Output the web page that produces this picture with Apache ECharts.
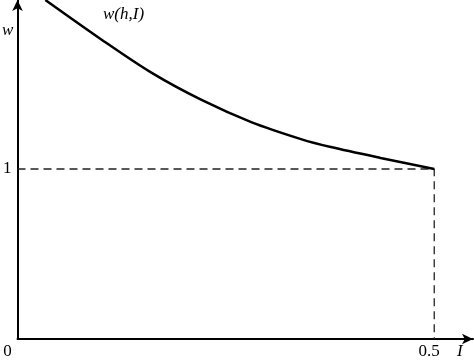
<!DOCTYPE html>
<html><head><meta charset="utf-8">
<script src="https://cdn.jsdelivr.net/npm/echarts@6/dist/echarts.min.js"></script>
<style>html,body{margin:0;padding:0;background:#fff}#c{width:474px;height:361px}</style>
</head><body><div id="c"></div>
<script>
var curveI = [0.0334, 0.1014, 0.1611, 0.2208, 0.2804, 0.3401, 0.3759, 0.4356, 0.5];
var curveW = [1.994, 1.759, 1.565, 1.406, 1.276, 1.176, 1.129, 1.065, 1.0];
var guideI = [0, 0.5, 0.5];
var guideW = [1, 1, 0];
var xTicks = [0, 0.5];
var yTicks = [1];
var xMax = 0.5465, yMax = 1.994;

var chart = echarts.init(document.getElementById('c'));
var font = 'Liberation Serif';
chart.setOption({
  animation: false,
  grid: {left: 15, right: 1, top: 0, bottom: 22},
  xAxis: {
    type: 'value', min: 0, max: xMax,
    axisLine: {lineStyle: {color: '#000', width: 2}, symbol: ['none', 'arrow'], symbolSize: [8, 11]},
    axisTick: {show: false}, splitLine: {show: false},
    axisLabel: {
      customValues: xTicks, color: '#000', fontFamily: font, fontSize: 17, margin: 4,
      formatter: function (v) { return v === 0 ? '{z|0}' : '{h|' + v + '}'; },
      rich: {z: {fontFamily: font, fontSize: 17, color: '#000', padding: [0, 20, 0, 0]},
             h: {fontFamily: font, fontSize: 17, color: '#000', padding: [0, 10, 0, 0]}}
    }
  },
  yAxis: {
    type: 'value', min: 0, max: yMax,
    axisLine: {lineStyle: {color: '#000', width: 2}, symbol: ['none', 'arrow'], symbolSize: [8, 11]},
    axisTick: {show: false}, splitLine: {show: false},
    axisLabel: {customValues: yTicks, color: '#000', fontFamily: font, fontSize: 17, margin: 6}
  },
  series: [
    {type: 'line', data: curveI.map(function (x, i) { return [x, curveW[i]]; }),
     smooth: 0.3, symbol: 'none', lineStyle: {color: '#000', width: 2.5}, z: 3},
    {type: 'line', data: guideI.map(function (x, i) { return [x, guideW[i]]; }),
     symbol: 'none', lineStyle: {color: '#222', width: 1.3, type: [8, 5]}, z: 2}
  ],
  graphic: [
    {type: 'text', left: 2, top: 22, style: {text: 'w', font: 'italic 17px "Liberation Serif"', fill: '#000'}},
    {type: 'text', left: 103, top: 6, style: {text: 'w(h,I)', font: 'italic 17px "Liberation Serif"', fill: '#000'}},
    {type: 'text', left: 457, top: 343, style: {text: 'I', font: 'italic 17px "Liberation Serif"', fill: '#000'}}
  ]
});
</script></body></html>
